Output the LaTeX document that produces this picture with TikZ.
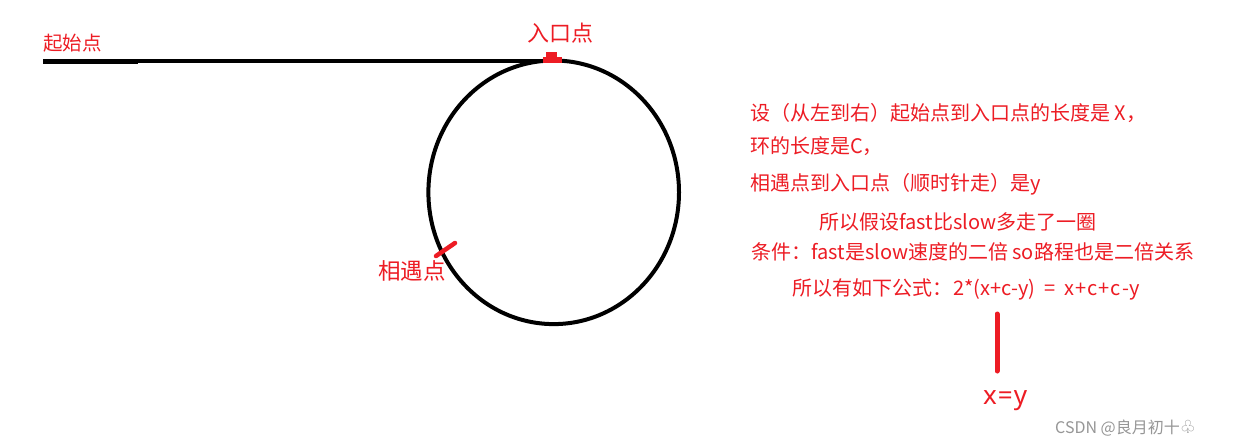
\documentclass[tikz,border=0pt]{standalone}
\usepackage{fontspec}
\newfontfamily\cjk{Noto Sans CJK SC}
\newfontfamily\latinsans{Noto Sans}
\newfontfamily\symfont{DejaVu Sans}
\definecolor{pred}{RGB}{237,28,36}
\definecolor{wmgray}{RGB}{150,150,150}
\tikzset{
  track/.style={line width=4pt, draw=black},
  redmark/.style={line width=4.5pt, draw=pred, line cap=round},
  lbl/.style={text=pred, inner sep=0pt, anchor=base west},
  body/.style={lbl, font=\cjk\fontsize{20}{24}\selectfont},
}
\begin{document}
\begin{tikzpicture}[x=1pt,y=1pt]
\useasboundingbox (0,0) rectangle (1234,-447);
\fill[white] (0,0) rectangle (1234,-447);

% loop
\coordinate (center) at (553.7,-192.3);
\draw[track] (center) ellipse [x radius=125.3, y radius=131.8];

% tail line
\coordinate (start) at (43,-61.3);
\coordinate (bend) at (138,-61.3);
\coordinate (bendb) at (138,-60.5);
\coordinate (entry) at (552,-60.5);
\draw[line width=4.7pt] (start) -- (bend);
\draw[track] (bendb) -- (entry);

% entry mark
\fill[pred] (546,-52) rectangle (557,-57);
\fill[pred] (543,-57) rectangle (562,-63);

% meeting mark
\coordinate (meetA) at (436,-256);
\coordinate (meetB) at (455,-243);
\draw[redmark] (meetA) -- (meetB);

% labels on the figure
\node[lbl, font=\cjk\fontsize{19.5}{22}\selectfont] (lstart) at (43,-50.5) {起始点};
\node[lbl, font=\cjk\fontsize{22}{26}\selectfont] (lentry) at (527,-41.4) {入口点};
\node[lbl, font=\cjk\fontsize{22.5}{26}\selectfont] (lmeet) at (378,-279.5) {相遇点};

% explanation block
\node[body] (t1) at (750,-120) {设（从左到右）起始点到入口点的长度是 X，};
\node[body] (t2) at (750,-153.6) {环的长度是C，};
\node[body] (t3) at (750,-190) {相遇点到入口点（顺时针走）是y};
\node[body] (t4) at (819,-229.6) {所以假设fast比slow多走了一圈};
\node[body] (t5) at (751,-259.6) {条件：fast是slow速度的二倍 so路程也是二倍关系};
\node[body] (t6) at (792,-295.6) {所以有如下公式：};
\node[body] (f1) at (953,-295.6) {2*(x+c-y)\hspace{9pt}=\hspace{9pt}x\kern1pt+\kern1pt c\kern1pt+\kern1pt c\kern1pt-\kern1pt y};

% result
\coordinate (vtop) at (997,-314);
\coordinate (vbot) at (997,-371);
\draw[redmark, line width=5pt] (vtop) -- (vbot);
\node[lbl, font=\latinsans\bfseries\fontsize{26}{30}\selectfont] (res) at (983,-404) {x\kern1pt=\kern1pt y};

% watermark
\node[inner sep=0pt, anchor=base west, text=wmgray, font=\cjk\fontsize{16}{19}\selectfont] (wm) at (1055,-433.5) {CSDN @良月初十{\symfont\fontsize{18}{19}\selectfont ♧}};
\end{tikzpicture}
\end{document}
